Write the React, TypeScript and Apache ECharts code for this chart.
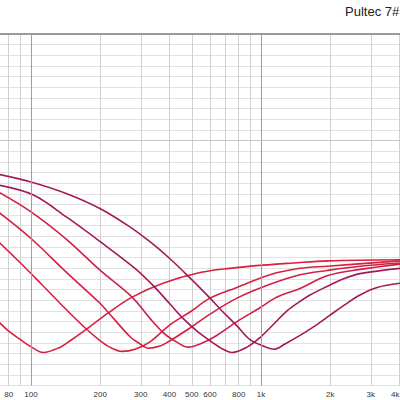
import React, { useEffect, useRef } from 'react';
import * as echarts from 'echarts';

// Frequency axis (Hz) – visible window of a log-frequency plot
const freqMin = 73.3;
const freqMax = 4020;
const gridFreqs = [80, 90, 100, 200, 300, 400, 500, 600, 700, 800, 900, 1000, 2000, 3000, 4000];
const labelFreqs = [80, 100, 200, 300, 400, 500, 600, 800, 1000, 2000, 3000, 4000];
const majorFreqs = [100, 1000];

// Level axis (dB)
const dbMin = -23;
const dbMax = 10;
const dbStep = 1;
const dbMajor = [0];

const titleText = 'Pultec 7#';

// Curves: [Hz, dB]
const curve1: [number, number][] = [
  [73, -3.2], [100, -3.9], [143, -5.0], [200, -6.4], [269, -8.1], [329, -9.5], [402, -11.1],
  [491, -12.9], [600, -14.8], [677, -16.0], [786, -17.4], [896, -18.7], [1010, -19.25],
  [1139, -19.6], [1272, -19.1], [1477, -18.3], [1717, -17.4], [1995, -16.4], [2318, -15.4],
  [2694, -14.5], [3194, -13.8], [4020, -13.4],
];
const curve2: [number, number][] = [
  [73, -4.2], [102, -5.1], [143, -7.2], [200, -9.5], [283, -12.0], [339, -13.6], [402, -15.35],
  [458, -16.7], [527, -17.9], [600, -18.8], [684, -19.6], [748, -19.9], [869, -19.4],
  [990, -18.5], [1128, -17.3], [1297, -16.0], [1477, -15.1], [1633, -14.5], [1936, -13.7],
  [2273, -13.0], [2694, -12.5], [4020, -12.0],
];
const curve3: [number, number][] = [
  [73, -4.9], [100, -6.7], [143, -9.3], [200, -12.2], [275, -14.7], [329, -16.7], [383, -18.2],
  [436, -19.0], [482, -19.4], [543, -19.1], [631, -18.4], [786, -17.0], [990, -15.7],
  [1174, -14.7], [1477, -13.9], [1936, -12.7], [2694, -12.1], [4020, -11.6],
];
const curve4: [number, number][] = [
  [73, -6.8], [100, -9.2], [143, -12.4], [200, -15.3], [216, -16.1], [269, -18.4], [298, -19.1],
  [323, -19.5], [364, -19.3], [402, -18.8], [491, -17.6], [600, -16.3], [786, -14.8],
  [1094, -13.5], [1477, -12.6], [1936, -12.2], [2694, -11.8], [4020, -11.5],
];
const curve5: [number, number][] = [
  [73, -9.6], [90, -11.5], [110, -13.4], [134, -15.3], [172, -17.6], [200, -18.8], [220, -19.4],
  [249, -19.8], [283, -19.6], [329, -18.9], [402, -17.3], [491, -16.1], [600, -14.8],
  [786, -13.8], [1094, -12.6], [1477, -12.0], [1936, -11.8], [4020, -11.3],
];
const curve6: [number, number][] = [
  [73, -17.1], [81, -18.0], [90, -18.7], [99, -19.3], [113, -19.9], [134, -19.4], [148, -18.8],
  [172, -17.8], [216, -16.2], [275, -14.7], [375, -13.4], [543, -12.4], [733, -12.0],
  [1020, -11.7], [1377, -11.5], [1936, -11.3], [4020, -11.2],
];

const curves = [curve6, curve5, curve4, curve3, curve2, curve1];
const curveColors = ['#d8203f', '#d8203f', '#d41f44', '#cf1f48', '#a3195a', '#a3195a'];

const fontFamily = '"Liberation Sans", Arial, sans-serif';

function fmtFreq(v: number): string {
  const f = Math.round(Math.pow(10, v));
  return f >= 1000 ? `${f / 1000}k` : `${f}`;
}

export default function App() {
  const ref = useRef<HTMLDivElement>(null);

  useEffect(() => {
    if (!ref.current) return;
    const chart = echarts.init(ref.current, undefined, { renderer: 'svg' });
    const lg = Math.log10;

    const series: any[] = [
      {
        type: 'line',
        data: [],
        silent: true,
        z: 1,
        markLine: {
          silent: true,
          symbol: 'none',
          animation: false,
          label: { show: false },
          lineStyle: { type: 'solid', width: 1 },
          data: [
            ...majorFreqs.map((f) => ({ xAxis: lg(f), lineStyle: { color: '#9e9e9e', type: 'solid', width: 1 } })),
            ...dbMajor.map((d) => ({ yAxis: d, lineStyle: { color: '#c6c6c6', type: 'solid', width: 1 } })),
            { yAxis: dbMax, lineStyle: { color: '#9a9a9a', type: 'solid', width: 2 } },
          ],
        },
      },
      ...curves.map((c, i) => ({
        type: 'line',
        data: c.map(([f, d]) => [lg(f), d]),
        showSymbol: false,
        smooth: 0.35,
        z: 3,
        lineStyle: { color: curveColors[i], width: 1.6 },
        itemStyle: { color: curveColors[i] },
      })),
    ];

    chart.setOption({
      animation: false,
      backgroundColor: '#ffffff',
      title: {
        text: titleText,
        left: 345,
        top: 5,
        padding: 0,
        textStyle: { fontSize: 13, fontWeight: 'normal', color: '#222', fontFamily },
      },
      grid: { left: 0, right: 0, top: 34, bottom: 14.5, containLabel: false, outerBoundsMode: 'none' },
      xAxis: {
        type: 'value',
        min: lg(freqMin),
        max: lg(freqMax),
        axisLine: { show: true, lineStyle: { color: '#8c8c8c', width: 1 } },
        axisTick: { show: false, customValues: gridFreqs.map(lg) },
        axisLabel: {
          customValues: labelFreqs.map(lg),
          formatter: (v: number) => fmtFreq(v),
          fontSize: 8,
          color: '#333',
          margin: 5,
          fontFamily,
          hideOverlap: false,
          alignMaxLabel: 'right',
        },
        splitLine: { show: true, lineStyle: { color: '#d0d0d0', width: 1 } },
      },
      yAxis: {
        type: 'value',
        min: dbMin,
        max: dbMax,
        interval: dbStep,
        axisLine: { show: false },
        axisTick: { show: false },
        axisLabel: { show: false },
        splitLine: { show: true, lineStyle: { color: '#e2e2e2', width: 1 } },
      },
      series,
    });

    return () => chart.dispose();
  }, []);

  return <div ref={ref} style={{ position: 'absolute', left: 0, top: 0, width: 400, height: 400 }} />;
}
